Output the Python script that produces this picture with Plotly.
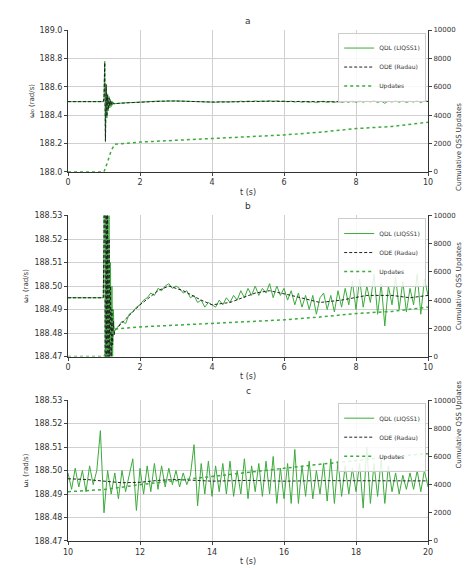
import plotly.graph_objects as go

# ---- data ----
t_ab = [0.0, 0.5, 0.98, 1.0, 1.02, 1.04, 1.06, 1.08, 1.10, 1.12, 1.14, 1.16, 1.18, 1.20, 1.22, 1.24, 1.26, 1.28] + [round(1.3 + 0.1 * i, 1) for i in range(88)]
qdl_ab = [188.495, 188.495, 188.495, 188.52, 188.78, 188.21, 188.62, 188.38, 188.55, 188.43, 188.53, 188.45, 188.51, 188.46, 188.50, 188.47, 188.49, 188.48,
    188.481,188.483,188.485,188.484,188.488,188.489,188.491,188.492,
    188.494,188.495,188.497,188.496,188.499,188.498,188.500,188.501,188.499,188.500,
    188.499,188.497,188.498,188.495,188.496,188.493,188.494,188.491,188.493,188.492,
    188.491,188.494,188.492,188.495,188.493,188.496,188.494,188.498,188.495,188.499,
    188.496,188.500,188.496,188.499,188.497,188.501,188.495,188.500,188.496,188.499,
    188.494,188.498,188.492,188.497,188.491,188.496,188.490,188.496,188.488,188.495,
    188.497,188.490,188.496,188.489,188.498,188.491,188.499,188.492,188.502,188.490,
    188.503,188.491,188.500,188.493,188.505,188.488,188.501,188.483,188.500,188.492,
    188.504,188.490,188.502,188.489,188.499,188.492,188.505,188.488,188.503,188.496]
t_ode_ab = [0.0, 0.98, 1.0, 1.02, 1.04, 1.06, 1.08, 1.10, 1.12, 1.14, 1.16, 1.18, 1.20, 1.22, 1.24, 1.26, 1.28, 1.3, 1.6, 2.0, 2.5, 2.8, 3.2, 3.7, 4.0, 4.5, 5.2, 5.6, 6.2, 7.0, 7.6, 8.3, 9.0, 9.5, 10.0]
ode_ab = [188.495, 188.495, 188.52, 188.77, 188.22, 188.61, 188.39, 188.54, 188.44, 188.52, 188.46, 188.50, 188.47, 188.49, 188.475, 188.485, 188.479,
    188.481, 188.486, 188.492, 188.498, 188.500, 188.498, 188.494, 188.492, 188.493, 188.497, 188.498, 188.496, 188.493, 188.494, 188.496, 188.496, 188.495, 188.496]
t_upd_ab = [0, 1.0, 1.1, 1.2, 1.3, 2, 4, 6, 7, 8, 9, 10]
upd_ab = [0, 0, 700, 1500, 1950, 2100, 2350, 2600, 2800, 3050, 3200, 3500]

t_c = [round(10 + 0.1 * i, 1) for i in range(101)]
qdl_c = [188.499,188.492,188.501,188.493,188.500,188.491,188.502,188.494,188.500,188.517,
    188.482,188.500,188.490,188.499,188.488,188.500,188.491,188.498,188.505,188.483,
    188.501,188.490,188.502,188.491,188.503,188.492,188.502,188.493,188.501,188.494,
    188.500,188.493,188.499,188.494,188.498,188.511,188.485,188.503,188.490,188.504,
    188.489,188.502,188.491,188.503,188.490,188.504,188.489,188.500,188.490,188.505,
    188.488,188.502,188.491,188.503,188.489,188.504,188.490,188.506,188.486,188.501,
    188.488,188.503,188.486,188.509,188.486,188.502,188.489,188.504,188.488,188.500,
    188.490,188.503,188.487,188.505,188.486,188.504,188.489,188.502,188.490,188.501,
    188.491,188.503,188.484,188.510,188.486,188.503,188.489,188.505,188.486,188.502,
    188.491,188.499,188.490,188.498,188.492,188.499,188.492,188.500,188.491,188.500,188.493]
t_ode_c = [10, 10.5, 11, 11.5, 12, 12.5, 13, 13.5, 14, 15, 16, 17, 18, 19, 20]
ode_c = [188.4965, 188.4962, 188.4955, 188.4948, 188.4950, 188.4958, 188.4962, 188.4958, 188.4955, 188.4958, 188.4955, 188.4957, 188.4956, 188.4955, 188.4956]
t_upd_c = [10, 11, 12, 13, 14, 15, 16, 17, 18, 19, 20]
upd_c = [3500, 3650, 4000, 4300, 4600, 4900, 5150, 5450, 5700, 6000, 6200]

G = "#3cab3c"
fig = go.Figure()
panels = [
    ("", t_ab, qdl_ab, t_ode_ab, ode_ab, t_upd_ab, upd_ab, "legend"),
    ("2", t_ab, qdl_ab, t_ode_ab, ode_ab, t_upd_ab, upd_ab, "legend2"),
    ("3", t_c, qdl_c, t_ode_c, ode_c, t_upd_c, upd_c, "legend3"),
]
for i, (s, tq, q, to, o, tu, u, lg) in enumerate(panels):
    xa = "x" + s
    ya = "y" + str(2 * i + 1) if i else "y"
    yr = "y" + str(2 * i + 2)
    fig.add_trace(go.Scatter(x=tq, y=q, mode="lines", line=dict(color=G, width=1), name="QDL (LIQSS1)", xaxis=xa, yaxis=ya, legend=lg))
    fig.add_trace(go.Scatter(x=to, y=o, mode="lines", line=dict(color="#222", width=1, dash="3px,2px"), name="ODE (Radau)", xaxis=xa, yaxis=ya, legend=lg))
    fig.add_trace(go.Scatter(x=tu, y=u, mode="lines", line=dict(color=G, width=1.5, dash="dot"), name="Updates", xaxis=xa, yaxis=yr, legend=lg))

doms = [[0.7224, 1], [0.361, 0.637], [0, 0.2757]]
ax = dict(showline=True, linecolor="#333", mirror=False, ticks="outside", ticklen=3, gridcolor="#d0d0d0", zeroline=False,
          tickfont=dict(size=8, color="#333"))
lay = dict(width=474, height=568, margin=dict(l=60, r=54, t=22, b=20), plot_bgcolor="white", paper_bgcolor="white",
           font=dict(family="DejaVu Sans", size=8, color="#333"))
yranges = [[188.0, 189.0], [188.47, 188.53], [188.47, 188.53]]
ytv = [[188.0, 188.2, 188.4, 188.6, 188.8, 189.0], [188.47 + 0.01 * k for k in range(7)], [188.47 + 0.01 * k for k in range(7)]]
ylabs = ["ω₀ (rad/s)", "ω₁ (rad/s)", "ω₁ (rad/s)"]
xr = [[0, 10], [0, 10], [10, 20]]
annots = []
for i in range(3):
    xn = "xaxis" + ("" if i == 0 else str(i + 1))
    yn = "yaxis" + ("" if i == 0 else str(2 * i + 1))
    yrn = "yaxis" + str(2 * i + 2)
    yl = "y" + ("" if i == 0 else str(2 * i + 1))
    lay[xn] = dict(ax, domain=[0, 1], anchor=yl, range=xr[i], dtick=2, showgrid=True,
                   title=dict(text="t (s)", font=dict(size=8), standoff=2))
    lay[yn] = dict(ax, domain=doms[i], anchor="x" + ("" if i == 0 else str(i + 1)), range=yranges[i], tickvals=ytv[i],
                   ticktext=[f"{v:.1f}" if i == 0 else f"{v:.2f}" for v in ytv[i]],
                   title=dict(text=ylabs[i], font=dict(size=7), standoff=4))
    lay[yrn] = dict(ax, overlaying=yl, side="right", anchor="x" + ("" if i == 0 else str(i + 1)), range=[0, 10000], dtick=2000,
                    tickformat="d", showgrid=False, tickfont=dict(size=7, color="#333"))
    lg = "legend" + ("" if i == 0 else str(i + 1))
    lay[lg] = dict(x=0.995, y=doms[i][1] - 0.005, xanchor="right", yanchor="top", bgcolor="rgba(255,255,255,0.85)",
                   bordercolor="#ccc", borderwidth=1, font=dict(size=6, color="#333"), tracegroupgap=0, itemwidth=30)
    annots.append(dict(text="abc"[i], x=0.5, y=doms[i][1], xref="paper", yref="paper", yanchor="bottom", showarrow=False,
                       font=dict(size=9), yshift=2))
    annots.append(dict(text="Cumulative QSS Updates", x=1, y=(doms[i][0] + doms[i][1]) / 2, xref="paper", yref="paper",
                       textangle=-90, showarrow=False, xanchor="center", xshift=31, font=dict(size=7)))
lay["annotations"] = annots
fig.update_layout(**lay)
fig.write_html("out.html")
